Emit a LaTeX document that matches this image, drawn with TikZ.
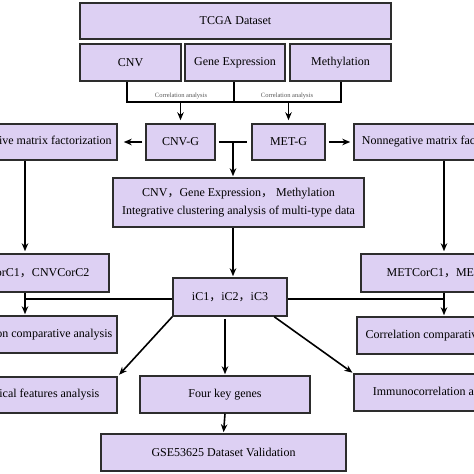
\documentclass[tikz,border=0pt]{standalone}
\usepackage{fontspec}
\setmainfont{Liberation Serif}
\newfontfamily\cjk{Noto Sans CJK SC}
\usetikzlibrary{arrows.meta,calc}
\definecolor{boxfill}{RGB}{221,208,243}
\definecolor{boxline}{RGB}{45,45,45}
\begin{document}
\begin{tikzpicture}[x=1pt,y=-1pt,
  box/.style={draw=boxline,fill=boxfill,line width=1.5pt,inner sep=0pt,
    font=\fontsize{12}{18}\selectfont,align=center},
  lab/.style={font=\fontsize{6.5}{7}\selectfont,text=black!65,inner sep=0pt},
  ln/.style={line width=1.6pt},
  arr/.style={line width=1.6pt,-{Stealth[length=8pt,width=6.5pt]}}]
\useasboundingbox (0,0) rectangle (474,474);
\clip (0,0) rectangle (474,474);
\fill[white] (0,0) rectangle (474,474);
% boxes
\node[box,minimum width=311pt,minimum height=36pt] (tcga) at (235.5,21) {TCGA Dataset};
\node[box,minimum width=101pt,minimum height=37pt] (cnv) at (130.5,62.5) {CNV};
\node[box,minimum width=100pt,minimum height=37pt] (ge) at (235,62.5) {Gene Expression};
\node[box,minimum width=101pt,minimum height=37pt] (meth) at (340.5,62.5) {Methylation};
\node[box,minimum width=69pt,minimum height=36pt] (cnvg) at (180.5,142) {CNV-G};
\node[box,minimum width=73pt,minimum height=36pt] (metg) at (288.5,142) {MET-G};
\node[box,minimum width=170pt,minimum height=36pt] (lnmf) at (32,142) {Nonnegative matrix factorization};
\node[box,minimum width=175pt,minimum height=36pt] (rnmf) at (441.5,142) {Nonnegative matrix factorization};
\node[box,minimum width=251pt,minimum height=49pt] (integ) at (238.5,202.5) {CNV{\cjk ，}Gene Expression{\cjk ，} Methylation\\Integrative clustering analysis of multi-type data};
\node[box,minimum width=166pt,minimum height=38pt] (lcor) at (26,273) {CNVCorC1{\cjk ，}CNVCorC2};
\node[box,minimum width=178pt,minimum height=38pt] (rcor) at (450,273) {METCorC1{\cjk ，}METCorC2};
\node[box,minimum width=114pt,minimum height=38pt] (ic) at (230,297) {iC1{\cjk ，}iC2{\cjk ，}iC3};
\node[box,minimum width=168pt,minimum height=37pt] (lcmp) at (33,334.5) {Correlation comparative analysis};
\node[box,minimum width=176pt,minimum height=37pt] (rcmp) at (445,335.5) {Correlation comparative analysis};
\node[box,minimum width=156pt,minimum height=36pt] (lclin) at (39,395) {Clinical features analysis};
\node[box,minimum width=170pt,minimum height=37pt] (four) at (225,394.5) {Four key genes};
\node[box,minimum width=172pt,minimum height=37pt] (rimm) at (440,392.5) {Immunocorrelation analysis};
\node[box,minimum width=245pt,minimum height=37pt] (gse) at (223.5,452.5) {GSE53625 Dataset Validation};
% correlation analysis connectors
\coordinate (j1) at (127,102);
\coordinate (j2) at (234,102);
\coordinate (j3) at (341,102);
\draw[ln] (cnv.south -| j1) -- (j1) -- (j3) -- (meth.south -| j3);
\draw[ln] (ge.south -| j2) -- (j2);
\node[lab] (l1) at (181,96) {Correlation analysis};
\node[lab] (l2) at (287,96) {Correlation analysis};
\draw[arr,shorten >=3pt] (cnvg.north |- j1) -- (cnvg.north);
\draw[arr,shorten >=3pt] (metg.north |- j1) -- (metg.north);
% row 3
\draw[arr,shorten <=3pt,shorten >=6pt] (cnvg.west) -- (lnmf.east);
\draw[arr,shorten <=3pt,shorten >=3pt] (metg.east) -- (rnmf.west);
\coordinate (m) at (233,142);
\draw[ln,shorten <=3pt,shorten >=4pt] (cnvg.east) -- (metg.west);
\draw[arr,shorten >=1pt] (m) -- (integ.north -| m);
\coordinate (lx) at (25,0);
\coordinate (rx) at (444,0);
\draw[arr,shorten >=2pt] (lnmf.south -| lx) -- (lcor.north -| lx);
\draw[arr,shorten >=2pt] (rnmf.south -| rx) -- (rcor.north -| rx);
\draw[arr,shorten >=1pt] (integ.south -| m) -- (ic.north -| m);
% iC links
\coordinate (hl) at (25,299);
\coordinate (hr) at (444,299);
\draw[arr,shorten >=1pt] (lcor.south -| lx) -- (lcmp.north -| lx);
\draw[arr,shorten >=1pt] (rcor.south -| rx) -- (rcmp.north -| rx);
\draw[ln] (ic.west |- hl) -- (hl);
\draw[ln] (ic.east |- hr) -- (hr);
\draw[arr,shorten >=2pt] (ic.south west) -- (lclin.north east);
\draw[arr,shorten >=1pt] ($(ic.south west)+(102,0)$) -- (rimm.north west);
\draw[arr,shorten <=2pt,shorten >=1pt] (four.north |- ic.south) -- (four.north);
\draw[arr,shorten >=1pt] (four.south) -- (gse.north);
\end{tikzpicture}
\end{document}
